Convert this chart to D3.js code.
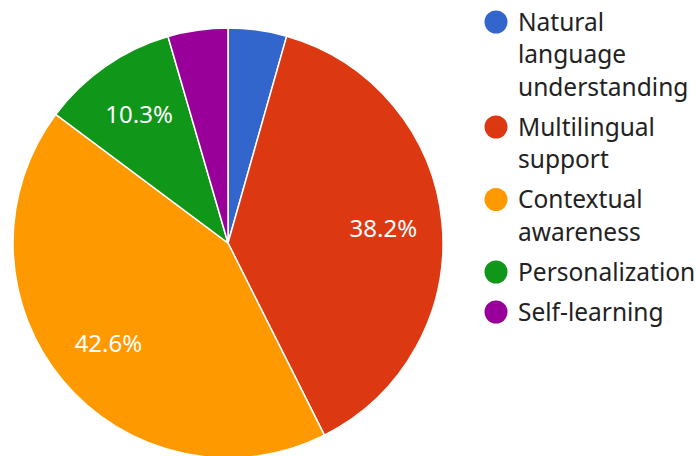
<!DOCTYPE html>
<html>
<head>
<meta charset="utf-8">
<script src="https://cdn.jsdelivr.net/npm/d3@7"></script>
<style>
  body { margin: 0; background: #fff; }
  text { font-family: "Noto Sans", sans-serif; }
</style>
</head>
<body>
<script>
// chart size
let width = 696;
let height = 456;

// data
let categories = ["Natural language understanding", "Multilingual support", "Contextual awareness", "Personalization", "Self-learning"];
let legendLines = [["Natural", "language", "understanding"], ["Multilingual", "support"], ["Contextual", "awareness"], ["Personalization"], ["Self-learning"]];
let values = [4.4, 38.2, 42.6, 10.3, 4.5];
let colors = ["#3366cc", "#dc3912", "#ff9900", "#109618", "#990099"];

let svg = d3.select("body").append("svg")
  .attr("width", width)
  .attr("height", height);

// pie
let cx = 228, cy = 243, radius = 215;
let pie = d3.pie().sort(null).value(d => d.value);
let arcs = pie(categories.map((c, i) => ({ name: c, value: values[i], color: colors[i] })));

let arc = d3.arc().innerRadius(0).outerRadius(radius);
let labelArc = d3.arc().innerRadius(156).outerRadius(156);

let g = svg.append("g").attr("transform", `translate(${cx},${cy})`);

g.selectAll("path")
  .data(arcs)
  .enter().append("path")
  .attr("d", arc)
  .attr("fill", d => d.data.color)
  .attr("stroke", "#fff")
  .attr("stroke-width", 1.5);

let total = d3.sum(values);
g.selectAll("text.pct")
  .data(arcs.filter(d => d.data.value / total > 0.05))
  .enter().append("text")
  .attr("class", "pct")
  .attr("transform", d => `translate(${labelArc.centroid(d)})`)
  .attr("text-anchor", "middle")
  .attr("dy", "0.36em")
  .attr("fill", "#fff")
  .attr("font-size", 24)
  .text(d => (d.data.value / total * 100).toFixed(1) + "%");

// legend
let lineH = 32.5, gap = 7.5;
let y = 22;
legendLines.forEach((lines, i) => {
  let item = svg.append("g").attr("transform", `translate(496,${y})`);
  item.append("circle").attr("r", 11.5).attr("fill", colors[i]);
  lines.forEach((t, j) => {
    item.append("text")
      .attr("x", 22)
      .attr("y", j * lineH)
      .attr("dy", "0.36em")
      .attr("font-size", 24.5)
      .attr("fill", "#222")
      .text(t);
  });
  y += lines.length * lineH + gap;
});
</script>
</body>
</html>
